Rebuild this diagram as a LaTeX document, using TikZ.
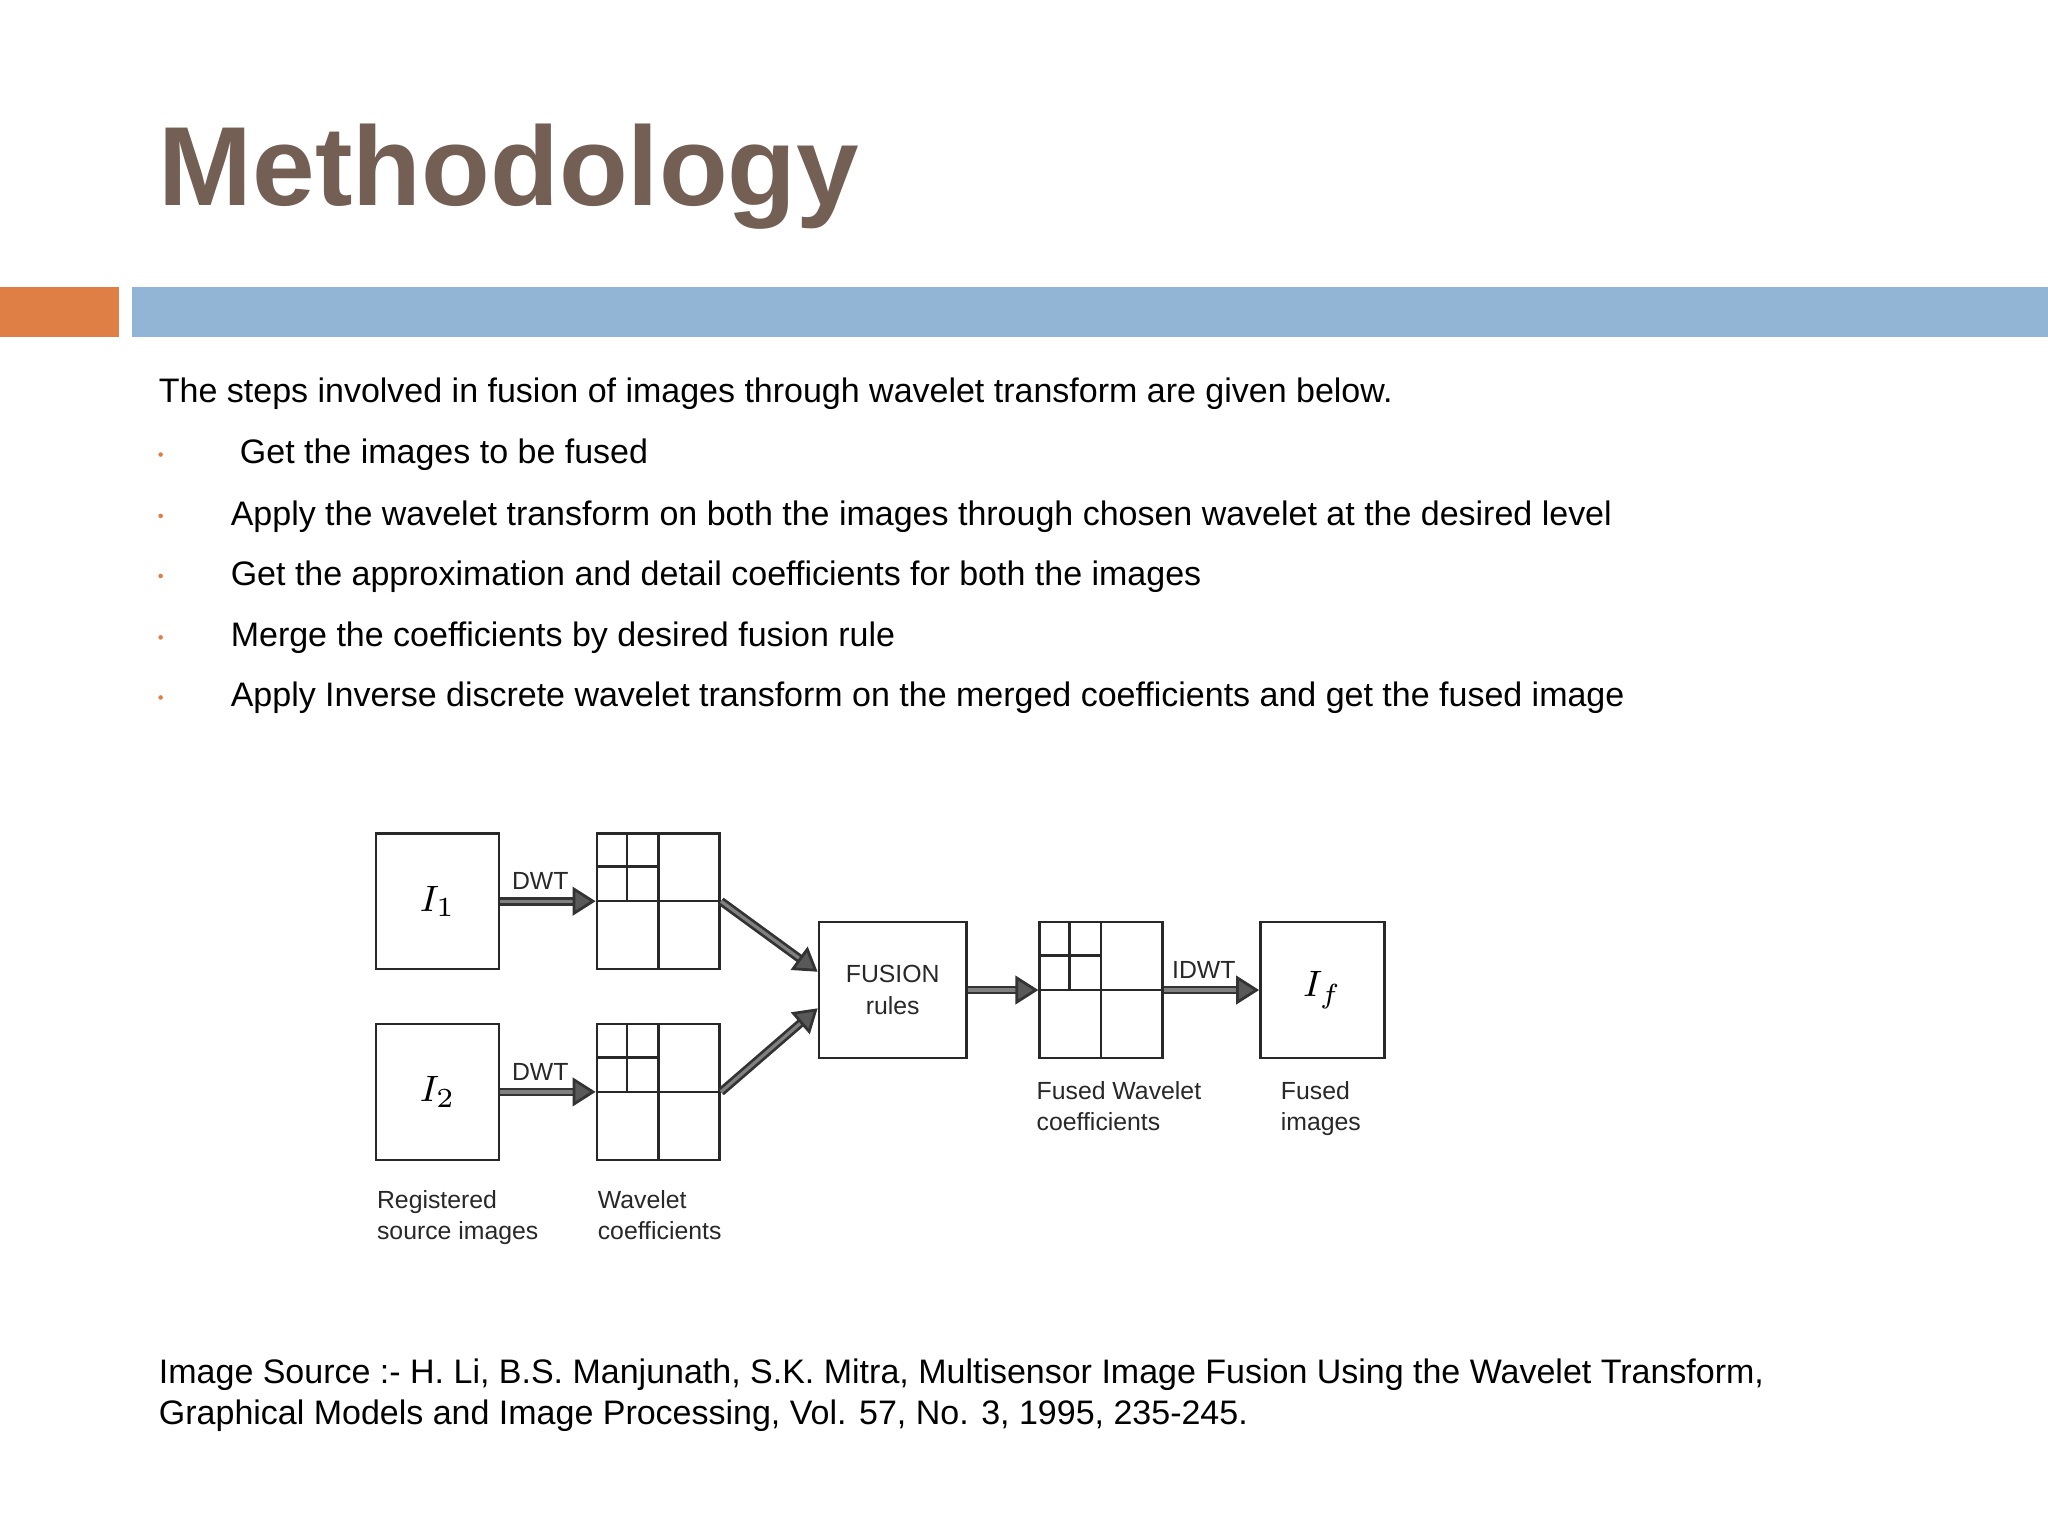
\documentclass[tikz,border=0pt]{standalone}
\usepackage{fontspec}
\setmainfont{Liberation Sans}
\usetikzlibrary{arrows.meta,calc}
\definecolor{titlebrown}{RGB}{116,95,85}
\definecolor{barorange}{RGB}{224,127,69}
\definecolor{barblue}{RGB}{147,181,213}
\definecolor{figgray}{RGB}{40,40,40}
\newcommand{\bodyfont}{\fontsize{7.4pt}{8.8pt}\selectfont}
\newcommand{\figfont}{\fontsize{5.4pt}{6.8pt}\selectfont}

\begin{document}
\begin{tikzpicture}[x=0.01cm,y=-0.01cm,
  imgbox/.style={draw=figgray, line width=0.55pt, minimum width=0.94cm,
    minimum height=1.04cm, inner sep=0pt},
  figlabel/.style={anchor=north west, inner sep=0pt, align=left,
    font=\figfont, text=figgray},
  fatarrow/.style={draw=black!80, double=black!50, double distance=0.7pt,
    line width=0.6pt, -{Triangle[length=5pt,width=6.2pt,fill=black!65]}},
  arrlabel/.style={above, pos=0.42, font=\figfont, text=figgray, inner sep=2.2pt},
  bullet/.style={circle, fill=barorange, inner sep=0pt, minimum size=0.035cm}]
  \useasboundingbox[fill=white] (0,0) rectangle (1568,1176);

  % title and bars
  \node[anchor=base west, inner sep=0pt, text=titlebrown,
    font=\fontsize{24.5pt}{28pt}\selectfont\bfseries] (title) at (121,157) {Methodology};
  \fill[barorange] (0,220) rectangle (91,258);
  \fill[barblue] (101,220) rectangle (1568,258);

  % steps
  \node[anchor=base west, inner sep=0pt, font=\bodyfont] (intro) at (121,308)
    {The steps involved in fusion of images through wavelet transform are given below.};
  \foreach \n/\y/\x/\txt in {1/355/183/Get the images to be fused,
      2/402/176/Apply the wavelet transform on both the images through chosen wavelet at the desired level,
      3/448/176/Get the approximation and detail coefficients for both the images,
      4/495/176/Merge the coefficients by desired fusion rule,
      5/541/176/Apply Inverse discrete wavelet transform on the merged coefficients and get the fused image} {
    \node[bullet] (dot\n) at (123,\y-7) {};
    \node[anchor=base west, inner sep=0pt, font=\bodyfont] (step\n) at (\x,\y) {\txt};
  }

  % diagram
  \node[imgbox] (I1) at (335,690) {\fontsize{8.3pt}{9pt}\selectfont$I_1$};
  \node[imgbox] (W1) at (504,690) {};
  \node[imgbox] (I2) at (335,836) {\fontsize{8.3pt}{9pt}\selectfont$I_2$};
  \node[imgbox] (W2) at (504,836) {};
  \node[imgbox, minimum width=1.13cm, align=center, font=\figfont, text=figgray]
    (fus) at (683.5,758) {FUSION\\rules};
  \node[imgbox] (FW) at (843,758) {};
  \node[imgbox, minimum width=0.95cm] (If) at (1012.5,758) {\fontsize{8.3pt}{9pt}\selectfont$I_f$};

  \foreach \g in {W1,W2,FW}
    \draw[figgray, line width=0.55pt] (\g.north) -- (\g.south) (\g.west) -- (\g.east)
      ($(\g.north west)!.5!(\g.north)$) -- ($(\g.west)!.5!(\g.center)$)
      ($(\g.north west)!.5!(\g.west)$) -- ($(\g.north)!.5!(\g.center)$);

  \draw[fatarrow] (I1) -- node[arrlabel] {DWT} (W1);
  \draw[fatarrow] (I2) -- node[arrlabel] {DWT} (W2);
  \draw[fatarrow] (W1.east) -- ([yshift=0.14cm]fus.west);
  \draw[fatarrow] (W2.east) -- ([yshift=-0.14cm]fus.west);
  \draw[fatarrow] (fus) -- (FW);
  \draw[fatarrow] (FW) -- node[arrlabel] {IDWT} (If);

  \node[figlabel] (lab1) at (288,911) {Registered\\source images};
  \node[figlabel] (lab2) at (457,911) {Wavelet\\coefficients};
  \node[figlabel] (lab3) at (793,827) {Fused Wavelet\\coefficients};
  \node[figlabel] (lab4) at (980,827) {Fused\\images};

  % source
  \node[anchor=north west, inner sep=0pt, align=left, font=\fontsize{7.4pt}{8.8pt}\selectfont]
    (source) at (121,1040) {Image Source :- H. Li, B.S. Manjunath, S.K. Mitra, Multisensor Image Fusion Using the Wavelet Transform,\\
    Graphical Models and Image Processing, Vol. 57, No. 3, 1995, 235-245.};
\end{tikzpicture}
\end{document}
